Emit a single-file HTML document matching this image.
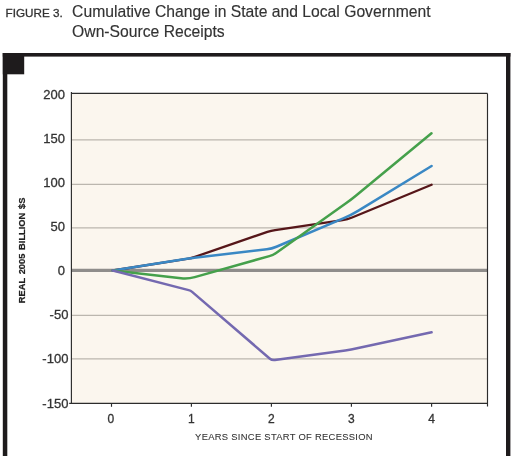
<!DOCTYPE html>
<html><head><meta charset="utf-8">
<style>
html,body{margin:0;padding:0;background:#fff;}
body{width:512px;height:456px;position:relative;overflow:hidden;font-family:"Liberation Sans",sans-serif;}
.t{position:absolute;white-space:nowrap;color:#333;line-height:1;}
</style></head><body>
<svg width="512" height="456" style="position:absolute;left:0;top:0;will-change:transform">
  <g font-family="Liberation Sans" fill="#333" stroke="#333" stroke-width="0.15">
    <text x="5.6" y="17" font-size="11.7" stroke-width="0.3">FIGURE 3.</text>
    <text x="72.1" y="16.6" font-size="15.7">Cumulative Change in State and Local Government</text>
    <text x="72.1" y="36.8" font-size="15.7">Own-Source Receipts</text>
  </g>
  <!-- frame -->
  <g fill="#1e1b1c">
  <rect x="2.8" y="53" width="4.5" height="403"/>
  <rect x="2.8" y="53" width="507.6" height="3.6"/>
  <rect x="506" y="53" width="4.4" height="403"/>
  <rect x="2.8" y="53" width="21.4" height="21.3"/>
  </g>
  <!-- plot bg -->
  <rect x="71.6" y="93.4" width="415.9" height="310" fill="#fbf6ee"/>
  <!-- gridlines -->
  <g stroke="#bbb6ae" stroke-width="1.3">
    <line x1="72" y1="139.8" x2="487" y2="139.8"/>
    <line x1="72" y1="184.4" x2="487" y2="184.4"/>
    <line x1="72" y1="227.8" x2="487" y2="227.8"/>
    <line x1="72" y1="315.4" x2="487" y2="315.4"/>
    <line x1="72" y1="358.8" x2="487" y2="358.8"/>
  </g>
  <line x1="72" y1="270.4" x2="487" y2="270.4" stroke="#8f8d8b" stroke-width="3.2"/>
  <!-- axes -->
  <g stroke="#2c2c2c" stroke-width="1.15" fill="none">
    <path d="M71.4 92 V403.3"/>
    <path d="M69.2 403.3 H487.5"/>
    <path d="M487.5 93.4 V406.4"/>
    <path d="M71.4 93.4 H487.5"/>
    <line x1="111.5" y1="403.3" x2="111.5" y2="406.8"/>
    <line x1="191.4" y1="403.3" x2="191.4" y2="406.8"/>
    <line x1="271.4" y1="403.3" x2="271.4" y2="406.8"/>
    <line x1="351.4" y1="403.3" x2="351.4" y2="406.8"/>
    <line x1="431.6" y1="403.3" x2="431.6" y2="406.8"/>
  </g>
  <!-- data -->
  <g fill="none" stroke-width="2.5" stroke-linejoin="round" stroke-linecap="round">
    <path stroke="#561619" stroke-width="2.3" d="M112.80 270.50 L188.44 258.57 Q191.40 258.10 194.24 257.12 L267.42 231.90 Q271.20 230.60 275.16 230.02 L342.55 220.13 Q347.50 219.40 352.12 217.50 L431.60 184.80"/>
    <path stroke="#3a88c4" d="M112.80 270.50 L188.44 258.57 Q191.40 258.10 194.38 257.75 L266.83 249.28 Q271.80 248.70 276.40 246.75 L343.84 218.13 Q351.20 215.00 358.03 210.84 L431.60 166.00"/>
    <path stroke="#45a04b" d="M112.80 270.50 L181.04 278.21 Q188.00 279.00 194.74 277.10 L269.35 256.08 Q273.20 255.00 276.46 252.68 L346.31 202.98 Q351.20 199.50 355.83 195.68 L431.50 133.20"/>
    <path stroke="#7469b0" d="M112.80 270.50 L188.66 290.10 Q190.60 290.60 192.12 291.90 L269.62 358.45 Q271.90 360.40 274.87 360.00 L345.25 350.41 Q351.20 349.60 357.07 348.34 L431.60 332.30"/>
  </g>
  <!-- y labels -->
  <g font-family="Liberation Sans" font-size="13" fill="#333" stroke="#333" stroke-width="0.3" text-anchor="end">
    <text x="65" y="99">200</text>
    <text x="65" y="142.6">150</text>
    <text x="65" y="186.6">100</text>
    <text x="65" y="230.5">50</text>
    <text x="65" y="275">0</text>
    <text x="68.4" y="319">-50</text>
    <text x="68.4" y="362.8">-100</text>
    <text x="68.4" y="408">-150</text>
  </g>
  <g font-family="Liberation Sans" font-size="12" fill="#333" stroke="#333" stroke-width="0.3" text-anchor="middle">
    <text x="110.9" y="422.6">0</text>
    <text x="191.4" y="422.6">1</text>
    <text x="271.4" y="422.6">2</text>
    <text x="351.4" y="422.6">3</text>
    <text x="431.6" y="422.6">4</text>
  </g>
  <text x="284" y="440.4" font-family="Liberation Sans" font-size="9.4" fill="#333" stroke="#333" stroke-width="0.08" letter-spacing="0.3" text-anchor="middle">YEARS SINCE START OF RECESSION</text>
  <text transform="translate(24.6,250.4) rotate(-90) scale(1,1.04)" font-family="Liberation Sans" font-size="9.3" font-weight="bold" fill="#222" stroke="#222" stroke-width="0.2" text-anchor="middle" word-spacing="1.2">REAL 2005 BILLION $S</text>
</svg>
</body></html>
